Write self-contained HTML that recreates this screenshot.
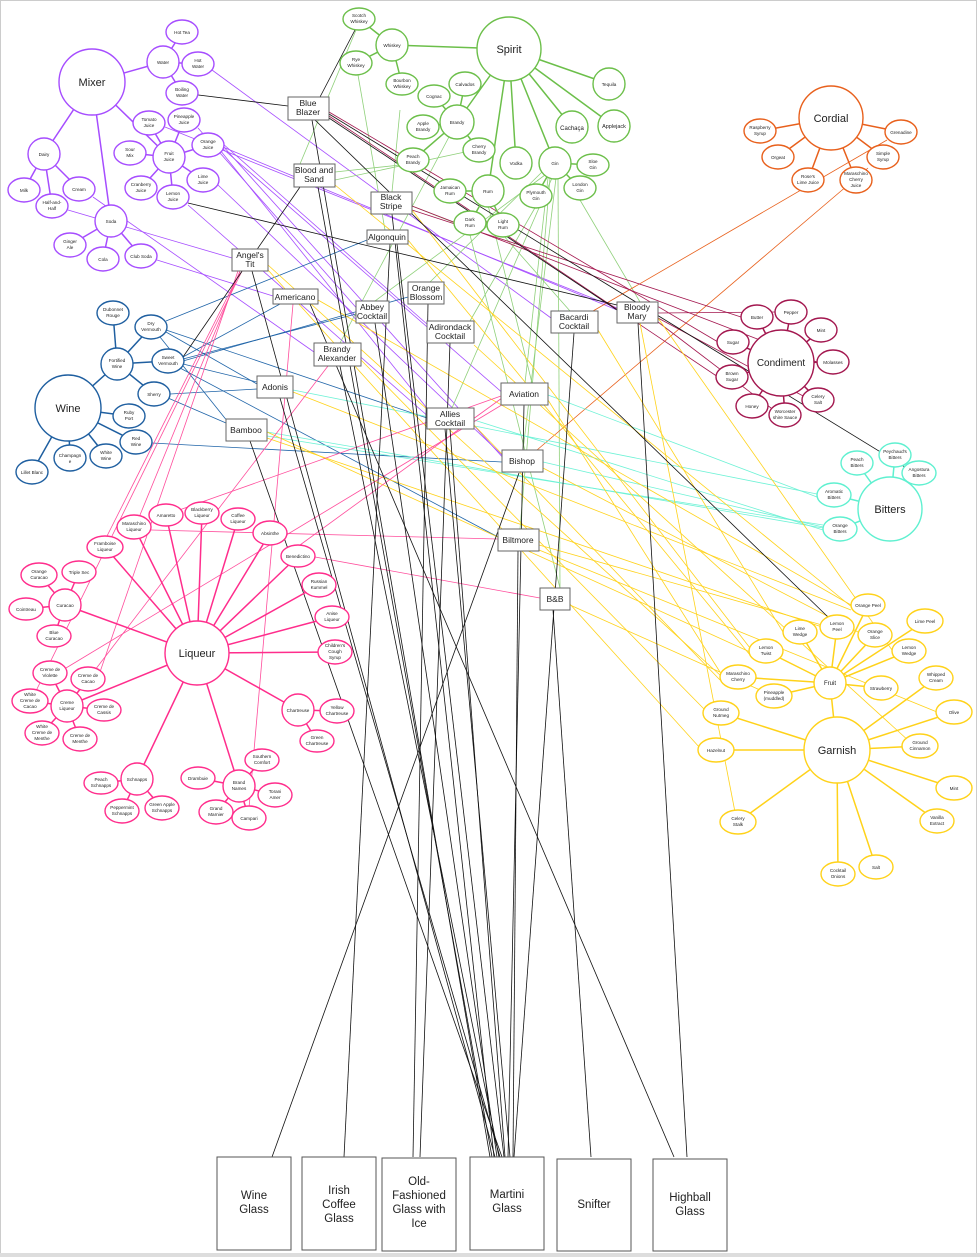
<!DOCTYPE html>
<html><head><meta charset="utf-8"><style>
html,body{margin:0;padding:0;background:#fff}
svg{display:block}
text{font-family:"Liberation Sans",sans-serif;text-anchor:middle;fill:#222}
.s text{font-size:4.6px}
.h{font-size:11px}
.b{font-size:8.5px;fill:#333}
.g{font-size:11.5px;fill:#222}
</style></head><body>
<svg width="980" height="1257" viewBox="0 0 980 1257" xmlns="http://www.w3.org/2000/svg">
<rect x="0.5" y="0.5" width="976" height="1254" fill="#fff" stroke="#ccc"/>
<rect x="0" y="1253" width="980" height="4" fill="#ddd"/>

<!-- cross links -->
<g fill="none" stroke-width="0.8">
<g stroke="#a64dff">
<line x1="212" y1="70" x2="551" y2="318"/>
<line x1="222" y1="145" x2="505" y2="460"/>
<line x1="222" y1="148" x2="505" y2="395"/>
<line x1="220" y1="150" x2="430" y2="412"/>
<line x1="222" y1="143" x2="428" y2="325"/>
<line x1="218" y1="185" x2="502" y2="455"/>
<line x1="188" y1="205" x2="430" y2="418"/>
<line x1="157" y1="260" x2="273" y2="296"/>
<line x1="68" y1="210" x2="232" y2="258"/>
<line x1="93" y1="197" x2="314" y2="352"/>
<line x1="165" y1="127" x2="617" y2="308"/>
<line x1="198" y1="128" x2="360" y2="312"/>
<line x1="218" y1="145" x2="617" y2="310"/>
</g>
<g stroke="#1f64a8">
<line x1="166" y1="321" x2="367" y2="240"/>
<line x1="166" y1="330" x2="427" y2="418"/>
<line x1="166" y1="332" x2="257" y2="384"/>
<line x1="160" y1="337" x2="228" y2="422"/>
<line x1="183" y1="357" x2="280" y2="304"/>
<line x1="183" y1="359" x2="356" y2="314"/>
<line x1="183" y1="361" x2="408" y2="297"/>
<line x1="183" y1="364" x2="257" y2="382"/>
<line x1="180" y1="368" x2="498" y2="537"/>
<line x1="170" y1="394" x2="257" y2="389"/>
<line x1="168" y1="398" x2="226" y2="423"/>
<line x1="152" y1="443" x2="502" y2="462"/>
</g>
<g stroke="#8fd07a">
<line x1="356" y1="30" x2="300" y2="164"/>
<line x1="358" y1="75" x2="385" y2="230"/>
<line x1="400" y1="165" x2="335" y2="172"/>
<line x1="465" y1="152" x2="335" y2="180"/>
<line x1="450" y1="135" x2="340" y2="343"/>
<line x1="460" y1="225" x2="412" y2="206"/>
<line x1="548" y1="178" x2="525" y2="383"/>
<line x1="545" y1="175" x2="375" y2="301"/>
<line x1="542" y1="172" x2="430" y2="282"/>
<line x1="550" y1="178" x2="520" y2="529"/>
<line x1="552" y1="178" x2="452" y2="408"/>
<line x1="556" y1="178" x2="523" y2="450"/>
<line x1="558" y1="178" x2="560" y2="588"/>
<line x1="503" y1="235" x2="570" y2="311"/>
<line x1="580" y1="200" x2="640" y2="302"/>
<line x1="536" y1="206" x2="470" y2="321"/>
<line x1="488" y1="205" x2="532" y2="383"/>
<line x1="470" y1="235" x2="560" y2="588"/>
<line x1="400" y1="110" x2="392" y2="192"/>
</g>
<g stroke="#e8601c">
<line x1="887" y1="140" x2="593" y2="311"/>
<line x1="868" y1="168" x2="537" y2="450"/>
</g>
<g stroke="#a3174f">
<line x1="412" y1="206" x2="817" y2="362"/>
<line x1="412" y1="210" x2="741" y2="317"/>
<line x1="658" y1="313" x2="775" y2="312"/>
<line x1="658" y1="322" x2="771" y2="408"/>
<line x1="658" y1="318" x2="805" y2="397"/>
<line x1="329" y1="112" x2="718" y2="342"/>
<line x1="329" y1="116" x2="718" y2="377"/>
</g>
<g stroke="#6ef2d6">
<line x1="817" y1="494" x2="293" y2="390"/>
<line x1="823" y1="528" x2="267" y2="432"/>
<line x1="823" y1="530" x2="474" y2="420"/>
<line x1="823" y1="527" x2="543" y2="462"/>
<line x1="823" y1="525" x2="267" y2="436"/>
<line x1="817" y1="497" x2="548" y2="395"/>
</g>
<g stroke="#ffd21a">
<line x1="268" y1="265" x2="720" y2="675"/>
<line x1="318" y1="300" x2="851" y2="605"/>
<line x1="335" y1="185" x2="853" y2="608"/>
<line x1="412" y1="210" x2="750" y2="648"/>
<line x1="267" y1="432" x2="750" y2="652"/>
<line x1="293" y1="392" x2="851" y2="610"/>
<line x1="543" y1="468" x2="858" y2="632"/>
<line x1="539" y1="545" x2="822" y2="625"/>
<line x1="640" y1="323" x2="735" y2="812"/>
<line x1="658" y1="318" x2="892" y2="650"/>
<line x1="408" y1="240" x2="750" y2="655"/>
<line x1="474" y1="425" x2="720" y2="680"/>
<line x1="548" y1="400" x2="720" y2="672"/>
<line x1="598" y1="330" x2="783" y2="632"/>
<line x1="361" y1="360" x2="705" y2="710"/>
<line x1="268" y1="270" x2="700" y2="748"/>
<line x1="539" y1="550" x2="937" y2="712"/>
<line x1="474" y1="345" x2="910" y2="742"/>
<line x1="570" y1="605" x2="760" y2="690"/>
<line x1="267" y1="438" x2="822" y2="627"/>
</g>
<g stroke="#ff4d9c">
<line x1="151" y1="530" x2="498" y2="539"/>
<line x1="315" y1="557" x2="540" y2="598"/>
<line x1="151" y1="520" x2="501" y2="396"/>
<line x1="66" y1="668" x2="505" y2="403"/>
<line x1="95" y1="670" x2="328" y2="366"/>
<line x1="100" y1="672" x2="238" y2="271"/>
<line x1="35" y1="693" x2="242" y2="271"/>
<line x1="249" y1="808" x2="293" y2="304"/>
<line x1="140" y1="515" x2="240" y2="271"/>
<line x1="300" y1="545" x2="502" y2="398"/>
<line x1="240" y1="272" x2="105" y2="540"/>
</g>
<g stroke="#111">
<line x1="182" y1="93" x2="288" y2="106"/>
<line x1="188" y1="203" x2="617" y2="305"/>
<line x1="320" y1="97" x2="355" y2="30"/>
<line x1="183" y1="357" x2="300" y2="187"/>
<line x1="329" y1="114" x2="905" y2="467"/>
<line x1="329" y1="118" x2="617" y2="310"/>
<line x1="315" y1="120" x2="828" y2="617"/>
<line x1="519" y1="473" x2="272" y2="1157"/>
<line x1="390" y1="244" x2="344" y2="1157"/>
<line x1="450" y1="343" x2="420" y2="1157"/>
<line x1="428" y1="304" x2="413" y2="1157"/>
<line x1="312" y1="120" x2="490" y2="1157"/>
<line x1="318" y1="187" x2="492" y2="1157"/>
<line x1="392" y1="214" x2="494" y2="1157"/>
<line x1="252" y1="271" x2="495" y2="1157"/>
<line x1="375" y1="323" x2="497" y2="1157"/>
<line x1="340" y1="366" x2="499" y2="1157"/>
<line x1="280" y1="398" x2="500" y2="1157"/>
<line x1="250" y1="441" x2="502" y2="1157"/>
<line x1="524" y1="405" x2="508" y2="1157"/>
<line x1="450" y1="429" x2="505" y2="1157"/>
<line x1="397" y1="244" x2="504" y2="1157"/>
<line x1="518" y1="551" x2="513" y2="1157"/>
<line x1="574" y1="333" x2="514" y2="1157"/>
<line x1="553" y1="610" x2="591" y2="1157"/>
<line x1="638" y1="323" x2="687" y2="1157"/>
<line x1="310" y1="304" x2="674" y2="1157"/>
<line x1="445" y1="429" x2="510" y2="1157"/>
</g>
</g>

<!-- spokes -->
<g stroke-width="1.5" fill="none">
<g stroke="#a64dff">
<path d="M92 82L163 62M92 82L169 157M92 82L44 154M92 82L111 221M163 62L182 32M163 62L198 64M163 62L182 93M169 157L149 123M169 157L184 120M169 157L208 145M169 157L130 153M169 157L141 188M169 157L203 180M169 157L173 197M44 154L24 190M44 154L79 189M44 154L52 206M111 221L70 245M111 221L103 259M111 221L141 256"/>
</g>
<g stroke="#1f5fa0">
<path d="M68 408L117 364M68 408L129 416M68 408L136 442M68 408L106 456M68 408L70 458M68 408L32 472M117 364L113 313M117 364L151 327M117 364L168 361M117 364L154 394"/>
</g>
<g stroke="#6cbf4a">
<path d="M509 49L392 45M509 49L457 122M509 49L488 191M509 49L516 163M509 49L555 163M509 49L572 127M509 49L614 126M509 49L609 84M392 45L359 19M392 45L356 63M392 45L402 84M457 122L465 84M457 122L434 96M457 122L423 127M457 122L479 150M457 122L413 160M488 191L450 191M488 191L470 223M488 191L503 225M555 163L593 165M555 163L580 188M555 163L536 196"/>
</g>
<g stroke="#e8601c">
<path d="M831 118L760 131M831 118L901 132M831 118L778 157M831 118L883 157M831 118L808 180M831 118L856 180"/>
</g>
<g stroke="#a3174f">
<path d="M781 363L757 317M781 363L791 312M781 363L821 330M781 363L733 342M781 363L833 362M781 363L732 377M781 363L818 400M781 363L752 406M781 363L785 415"/>
</g>
<g stroke="#5ff0d0">
<path d="M890 509L857 463M890 509L895 455M890 509L919 473M890 509L834 495M890 509L840 529"/>
</g>
<g stroke="#ffd21a">
<path d="M837 750L830 683M837 750L936 678M837 750L954 712M837 750L920 746M837 750L954 788M837 750L937 821M837 750L876 867M837 750L838 874M837 750L738 822M837 750L716 750M837 750L721 713M830 683L868 605M830 683L925 621M830 683L837 627M830 683L800 632M830 683L875 635M830 683L909 651M830 683L766 651M830 683L738 677M830 683L774 696M830 683L881 688"/>
</g>
<g stroke="#ff2d8c">
<path d="M197 653L134 527M197 653L166 515M197 653L202 513M197 653L238 519M197 653L270 533M197 653L298 556M197 653L319 585M197 653L332 617M197 653L335 652M197 653L298 710M197 653L239 786M197 653L137 779M197 653L67 706M197 653L65 605M197 653L105 547M65 605L39 575M65 605L79 572M65 605L26 609M65 605L54 636M67 706L50 673M67 706L88 679M67 706L30 701M67 706L104 710M67 706L42 733M67 706L80 739M298 710L337 711M298 710L317 741M239 786L262 760M239 786L198 778M239 786L275 795M239 786L216 812M239 786L249 818M137 779L101 783M137 779L122 811M137 779L162 808"/>
</g>
</g>

<!-- nodes -->
<g fill="#fff" stroke-width="1.4">
<g stroke="#a64dff">
<circle cx="92" cy="82" r="33"/><ellipse cx="182" cy="32" rx="16" ry="12"/><circle cx="163" cy="62" r="16"/><ellipse cx="198" cy="64" rx="16" ry="12"/><ellipse cx="182" cy="93" rx="16" ry="12"/><ellipse cx="149" cy="123" rx="16" ry="12"/><ellipse cx="184" cy="120" rx="16" ry="12"/><ellipse cx="208" cy="145" rx="16" ry="12"/><ellipse cx="130" cy="153" rx="16" ry="12"/><circle cx="169" cy="157" r="16"/><ellipse cx="141" cy="188" rx="16" ry="12"/><ellipse cx="203" cy="180" rx="16" ry="12"/><ellipse cx="173" cy="197" rx="16" ry="12"/><circle cx="44" cy="154" r="16"/><ellipse cx="24" cy="190" rx="16" ry="12"/><ellipse cx="79" cy="189" rx="16" ry="12"/><ellipse cx="52" cy="206" rx="16" ry="12"/><circle cx="111" cy="221" r="16"/><ellipse cx="70" cy="245" rx="16" ry="12"/><ellipse cx="103" cy="259" rx="16" ry="12"/><ellipse cx="141" cy="256" rx="16" ry="12"/>
</g>
<g stroke="#1f5fa0">
<circle cx="68" cy="408" r="33"/><ellipse cx="113" cy="313" rx="16" ry="12"/><ellipse cx="151" cy="327" rx="16" ry="12"/><circle cx="117" cy="364" r="16"/><ellipse cx="168" cy="361" rx="16" ry="12"/><ellipse cx="154" cy="394" rx="16" ry="12"/><ellipse cx="129" cy="416" rx="16" ry="12"/><ellipse cx="136" cy="442" rx="16" ry="12"/><ellipse cx="106" cy="456" rx="16" ry="12"/><ellipse cx="70" cy="458" rx="16" ry="13"/><ellipse cx="32" cy="472" rx="16" ry="12"/>
</g>
<g stroke="#6cbf4a">
<circle cx="509" cy="49" r="32"/><ellipse cx="359" cy="19" rx="16" ry="11"/><circle cx="392" cy="45" r="16"/><ellipse cx="356" cy="63" rx="16" ry="12"/><ellipse cx="402" cy="84" rx="16" ry="11"/><circle cx="609" cy="84" r="16"/><ellipse cx="465" cy="84" rx="16" ry="12"/><ellipse cx="434" cy="96" rx="16" ry="11"/><circle cx="457" cy="122" r="17"/><ellipse cx="423" cy="127" rx="16" ry="12"/><ellipse cx="479" cy="150" rx="16" ry="12"/><ellipse cx="413" cy="160" rx="16" ry="12"/><circle cx="516" cy="163" r="16"/><circle cx="555" cy="163" r="16"/><ellipse cx="593" cy="165" rx="16" ry="11"/><ellipse cx="580" cy="188" rx="16" ry="12"/><circle cx="572" cy="127" r="16"/><circle cx="614" cy="126" r="16"/><ellipse cx="450" cy="191" rx="16" ry="12"/><circle cx="488" cy="191" r="16"/><ellipse cx="536" cy="196" rx="16" ry="12"/><ellipse cx="470" cy="223" rx="16" ry="12"/><ellipse cx="503" cy="225" rx="16" ry="12"/>
</g>
<g stroke="#e8601c">
<circle cx="831" cy="118" r="32"/><ellipse cx="760" cy="131" rx="16" ry="12"/><ellipse cx="901" cy="132" rx="16" ry="12"/><ellipse cx="778" cy="157" rx="16" ry="12"/><ellipse cx="883" cy="157" rx="16" ry="12"/><ellipse cx="808" cy="180" rx="16" ry="12"/><ellipse cx="856" cy="180" rx="16" ry="13"/>
</g>
<g stroke="#a3174f">
<circle cx="781" cy="363" r="33"/><ellipse cx="757" cy="317" rx="16" ry="12"/><ellipse cx="791" cy="312" rx="16" ry="12"/><ellipse cx="821" cy="330" rx="16" ry="12"/><ellipse cx="733" cy="342" rx="16" ry="12"/><ellipse cx="833" cy="362" rx="16" ry="12"/><ellipse cx="732" cy="377" rx="16" ry="12"/><ellipse cx="818" cy="400" rx="16" ry="12"/><ellipse cx="752" cy="406" rx="16" ry="12"/><ellipse cx="785" cy="415" rx="16" ry="12"/>
</g>
<g stroke="#5ff0d0">
<circle cx="890" cy="509" r="32"/><ellipse cx="857" cy="463" rx="16" ry="12"/><ellipse cx="895" cy="455" rx="16" ry="12"/><ellipse cx="919" cy="473" rx="17" ry="12"/><ellipse cx="834" cy="495" rx="17" ry="12"/><ellipse cx="840" cy="529" rx="17" ry="12"/>
</g>
<g stroke="#ffd21a">
<circle cx="837" cy="750" r="33"/><circle cx="830" cy="683" r="16"/><ellipse cx="868" cy="605" rx="17" ry="11"/><ellipse cx="925" cy="621" rx="18" ry="12"/><ellipse cx="837" cy="627" rx="17" ry="12"/><ellipse cx="800" cy="632" rx="17" ry="12"/><ellipse cx="875" cy="635" rx="17" ry="12"/><ellipse cx="909" cy="651" rx="17" ry="12"/><ellipse cx="766" cy="651" rx="17" ry="12"/><ellipse cx="936" cy="678" rx="17" ry="12"/><ellipse cx="738" cy="677" rx="18" ry="12"/><ellipse cx="881" cy="688" rx="17" ry="12"/><ellipse cx="774" cy="696" rx="18" ry="12"/><ellipse cx="954" cy="712" rx="18" ry="12"/><ellipse cx="721" cy="713" rx="18" ry="12"/><ellipse cx="920" cy="746" rx="18" ry="12"/><ellipse cx="716" cy="750" rx="18" ry="12"/><ellipse cx="954" cy="788" rx="18" ry="12"/><ellipse cx="937" cy="821" rx="17" ry="12"/><ellipse cx="738" cy="822" rx="18" ry="12"/><ellipse cx="876" cy="867" rx="17" ry="12"/><ellipse cx="838" cy="874" rx="17" ry="12"/>
</g>
<g stroke="#ff2d8c">
<circle cx="197" cy="653" r="32"/><ellipse cx="166" cy="515" rx="17" ry="11"/><ellipse cx="202" cy="513" rx="17" ry="11"/><ellipse cx="238" cy="519" rx="17" ry="11"/><ellipse cx="134" cy="527" rx="17" ry="12"/><ellipse cx="270" cy="533" rx="17" ry="12"/><ellipse cx="105" cy="547" rx="18" ry="11"/><ellipse cx="298" cy="556" rx="17" ry="11"/><ellipse cx="39" cy="575" rx="18" ry="12"/><ellipse cx="79" cy="572" rx="17" ry="11"/><ellipse cx="319" cy="585" rx="17" ry="12"/><circle cx="65" cy="605" r="16"/><ellipse cx="26" cy="609" rx="17" ry="11"/><ellipse cx="332" cy="617" rx="17" ry="11"/><ellipse cx="54" cy="636" rx="17" ry="11"/><ellipse cx="335" cy="652" rx="17" ry="12"/><ellipse cx="50" cy="673" rx="17" ry="12"/><ellipse cx="88" cy="679" rx="17" ry="12"/><ellipse cx="30" cy="701" rx="18" ry="12"/><circle cx="67" cy="706" r="16"/><ellipse cx="104" cy="710" rx="17" ry="11"/><ellipse cx="42" cy="733" rx="17" ry="12"/><ellipse cx="80" cy="739" rx="17" ry="12"/><circle cx="298" cy="710" r="16"/><ellipse cx="337" cy="711" rx="17" ry="12"/><ellipse cx="317" cy="741" rx="17" ry="11"/><ellipse cx="262" cy="760" rx="17" ry="11"/><ellipse cx="198" cy="778" rx="17" ry="11"/><circle cx="239" cy="786" r="16"/><ellipse cx="275" cy="795" rx="17" ry="12"/><circle cx="137" cy="779" r="16"/><ellipse cx="101" cy="783" rx="17" ry="11"/><ellipse cx="216" cy="812" rx="17" ry="12"/><ellipse cx="249" cy="818" rx="17" ry="12"/><ellipse cx="122" cy="811" rx="17" ry="12"/><ellipse cx="162" cy="808" rx="17" ry="12"/>
</g>
</g>

<!-- hub labels -->
<text class="h" x="92" y="86">Mixer</text>
<text class="h" x="68" y="412">Wine</text>
<text class="h" x="509" y="53">Spirit</text>
<text class="h" x="831" y="122">Cordial</text>
<text class="h" x="781" y="366" style="font-size:10px">Condiment</text>
<text class="h" x="890" y="513">Bitters</text>
<text class="h" x="837" y="754">Garnish</text>
<text class="h" x="197" y="657">Liqueur</text>

<!-- small labels -->
<g class="s">
<text x="182" y="34">Hot Tea</text><text x="163" y="64">Water</text>
<text x="198" y="62">Hot<tspan x="198" dy="6">Water</tspan></text>
<text x="182" y="91">Boiling<tspan x="182" dy="6">Water</tspan></text>
<text x="149" y="121">Tomato<tspan x="149" dy="6">Juice</tspan></text>
<text x="184" y="118">Pineapple<tspan x="184" dy="6">Juice</tspan></text>
<text x="208" y="143">Orange<tspan x="208" dy="6">Juice</tspan></text>
<text x="130" y="151">Sour<tspan x="130" dy="6">Mix</tspan></text>
<text x="169" y="155">Fruit<tspan x="169" dy="6">Juice</tspan></text>
<text x="141" y="186">Cranberry<tspan x="141" dy="6">Juice</tspan></text>
<text x="203" y="178">Lime<tspan x="203" dy="6">Juice</tspan></text>
<text x="173" y="195">Lemon<tspan x="173" dy="6">Juice</tspan></text>
<text x="44" y="156">Dairy</text><text x="24" y="192">Milk</text><text x="79" y="191">Cream</text>
<text x="52" y="204">Half-and-<tspan x="52" dy="6">Half</tspan></text>
<text x="111" y="223">Soda</text>
<text x="70" y="243">Ginger<tspan x="70" dy="6">Ale</tspan></text>
<text x="103" y="261">Cola</text><text x="141" y="258">Club Soda</text>

<text x="113" y="311">Dubonnet<tspan x="113" dy="6">Rouge</tspan></text>
<text x="151" y="325">Dry<tspan x="151" dy="6">Vermouth</tspan></text>
<text x="117" y="362">Fortified<tspan x="117" dy="6">Wine</tspan></text>
<text x="168" y="359">Sweet<tspan x="168" dy="6">Vermouth</tspan></text>
<text x="154" y="396">Sherry</text>
<text x="129" y="414">Ruby<tspan x="129" dy="6">Port</tspan></text>
<text x="136" y="440">Red<tspan x="136" dy="6">Wine</tspan></text>
<text x="106" y="454">White<tspan x="106" dy="6">Wine</tspan></text>
<text x="70" y="457">Champagn<tspan x="70" dy="6">e</tspan></text>
<text x="32" y="474">Lillet Blanc</text>

<text x="359" y="17">Scotch<tspan x="359" dy="6">Whiskey</tspan></text>
<text x="392" y="47">Whiskey</text>
<text x="356" y="61">Rye<tspan x="356" dy="6">Whiskey</tspan></text>
<text x="402" y="82">Bourbon<tspan x="402" dy="6">Whiskey</tspan></text>
<text x="609" y="86">Tequila</text><text x="465" y="86">Calvados</text><text x="434" y="98">Cognac</text>
<text x="457" y="124">Brandy</text>
<text x="423" y="125">Apple<tspan x="423" dy="6">Brandy</tspan></text>
<text x="479" y="148">Cherry<tspan x="479" dy="6">Brandy</tspan></text>
<text x="413" y="158">Peach<tspan x="413" dy="6">Brandy</tspan></text>
<text x="516" y="165">Vodka</text><text x="555" y="165">Gin</text>
<text x="593" y="163">Sloe<tspan x="593" dy="6">Gin</tspan></text>
<text x="580" y="186">London<tspan x="580" dy="6">Gin</tspan></text>
<text x="572" y="130" style="font-size:6px">Cachaça</text><text x="614" y="128" style="font-size:5.5px">Applejack</text>
<text x="450" y="189">Jamaican<tspan x="450" dy="6">Rum</tspan></text>
<text x="488" y="193">Rum</text>
<text x="536" y="194">Plymouth<tspan x="536" dy="6">Gin</tspan></text>
<text x="470" y="221">Dark<tspan x="470" dy="6">Rum</tspan></text>
<text x="503" y="223">Light<tspan x="503" dy="6">Rum</tspan></text>

<text x="760" y="129">Raspberry<tspan x="760" dy="6">Syrup</tspan></text>
<text x="901" y="134">Grenadine</text><text x="778" y="159">Orgeat</text>
<text x="883" y="155">Simple<tspan x="883" dy="6">Syrup</tspan></text>
<text x="808" y="178">Rose's<tspan x="808" dy="6">Lime Juice</tspan></text>
<text x="856" y="175">Maraschino<tspan x="856" dy="6">Cherry</tspan><tspan x="856" dy="6">Juice</tspan></text>

<text x="757" y="319">Butter</text><text x="791" y="314">Pepper</text><text x="821" y="332">Mint</text>
<text x="733" y="344">Sugar</text><text x="833" y="364">Molasses</text>
<text x="732" y="375">Brown<tspan x="732" dy="6">Sugar</tspan></text>
<text x="818" y="398">Celery<tspan x="818" dy="6">Salt</tspan></text>
<text x="752" y="408">Honey</text>
<text x="785" y="413">Worcester<tspan x="785" dy="6">shire Sauce</tspan></text>

<text x="857" y="461">Peach<tspan x="857" dy="6">Bitters</tspan></text>
<text x="895" y="453">Peychaud's<tspan x="895" dy="6">Bitters</tspan></text>
<text x="919" y="471">Angostura<tspan x="919" dy="6">Bitters</tspan></text>
<text x="834" y="493">Aromatic<tspan x="834" dy="6">Bitters</tspan></text>
<text x="840" y="527">Orange<tspan x="840" dy="6">Bitters</tspan></text>

<text x="830" y="685" style="font-size:6px">Fruit</text>
<text x="868" y="607">Orange Peel</text><text x="925" y="623">Lime Peel</text>
<text x="837" y="625">Lemon<tspan x="837" dy="6">Peel</tspan></text>
<text x="800" y="630">Lime<tspan x="800" dy="6">Wedge</tspan></text>
<text x="875" y="633">Orange<tspan x="875" dy="6">Slice</tspan></text>
<text x="909" y="649">Lemon<tspan x="909" dy="6">Wedge</tspan></text>
<text x="766" y="649">Lemon<tspan x="766" dy="6">Twist</tspan></text>
<text x="936" y="676">Whipped<tspan x="936" dy="6">Cream</tspan></text>
<text x="738" y="675">Maraschino<tspan x="738" dy="6">Cherry</tspan></text>
<text x="881" y="690">Strawberry</text>
<text x="774" y="694">Pineapple<tspan x="774" dy="6">(muddled)</tspan></text>
<text x="954" y="714">Olive</text>
<text x="721" y="711">Ground<tspan x="721" dy="6">Nutmeg</tspan></text>
<text x="920" y="744">Ground<tspan x="920" dy="6">Cinnamon</tspan></text>
<text x="716" y="752">Hazelnut</text><text x="954" y="790">Mint</text>
<text x="937" y="819">Vanilla<tspan x="937" dy="6">Extract</tspan></text>
<text x="738" y="820">Celery<tspan x="738" dy="6">Stalk</tspan></text>
<text x="876" y="869">Salt</text>
<text x="838" y="872">Cocktail<tspan x="838" dy="6">Onions</tspan></text>

<text x="166" y="517">Amaretto</text>
<text x="202" y="511">Blackberry<tspan x="202" dy="6">Liqueur</tspan></text>
<text x="238" y="517">Coffee<tspan x="238" dy="6">Liqueur</tspan></text>
<text x="134" y="525">Maraschino<tspan x="134" dy="6">Liqueur</tspan></text>
<text x="270" y="535">Absinthe</text>
<text x="105" y="545">Framboise<tspan x="105" dy="6">Liqueur</tspan></text>
<text x="298" y="558">Benedictino</text>
<text x="39" y="573">Orange<tspan x="39" dy="6">Curacao</tspan></text>
<text x="79" y="574">Triple Sec</text>
<text x="319" y="583">Russian<tspan x="319" dy="6">Kummel</tspan></text>
<text x="65" y="607">Curacao</text><text x="26" y="611">Cointreau</text>
<text x="332" y="615">Anise<tspan x="332" dy="6">Liqueur</tspan></text>
<text x="54" y="634">Blue<tspan x="54" dy="6">Curacao</tspan></text>
<text x="335" y="647">Children's<tspan x="335" dy="6">Cough</tspan><tspan x="335" dy="6">Syrup</tspan></text>
<text x="50" y="671">Creme de<tspan x="50" dy="6">Violette</tspan></text>
<text x="88" y="677">Creme de<tspan x="88" dy="6">Cacao</tspan></text>
<text x="30" y="696">White<tspan x="30" dy="6">Creme de</tspan><tspan x="30" dy="6">Cacao</tspan></text>
<text x="67" y="704">Creme<tspan x="67" dy="6">Liqueur</tspan></text>
<text x="104" y="708">Creme de<tspan x="104" dy="6">Cassis</tspan></text>
<text x="42" y="728">White<tspan x="42" dy="6">Creme de</tspan><tspan x="42" dy="6">Menthe</tspan></text>
<text x="80" y="737">Creme de<tspan x="80" dy="6">Menthe</tspan></text>
<text x="298" y="712">Chartreuse</text>
<text x="337" y="709">Yellow<tspan x="337" dy="6">Chartreuse</tspan></text>
<text x="317" y="739">Green<tspan x="317" dy="6">Chartreuse</tspan></text>
<text x="262" y="758">Southern<tspan x="262" dy="6">Comfort</tspan></text>
<text x="198" y="780">Drambuie</text>
<text x="239" y="784">Brand<tspan x="239" dy="6">Names</tspan></text>
<text x="275" y="793">Torani<tspan x="275" dy="6">Amer</tspan></text>
<text x="137" y="781">Schnapps</text>
<text x="101" y="781">Peach<tspan x="101" dy="6">Schnapps</tspan></text>
<text x="216" y="810">Grand<tspan x="216" dy="6">Marnier</tspan></text>
<text x="249" y="820">Campari</text>
<text x="122" y="809">Peppermint<tspan x="122" dy="6">Schnapps</tspan></text>
<text x="162" y="806">Green Apple<tspan x="162" dy="6">Schnapps</tspan></text>
</g>

<!-- cocktail boxes -->
<g fill="#fff" stroke="#666" stroke-width="1">
<rect x="288" y="97" width="41" height="23"/><rect x="294" y="164" width="41" height="23"/>
<rect x="371" y="192" width="41" height="22"/><rect x="367" y="230" width="41" height="14"/>
<rect x="232" y="249" width="36" height="22"/><rect x="273" y="289" width="45" height="15"/>
<rect x="408" y="282" width="36" height="22"/><rect x="356" y="301" width="33" height="22"/>
<rect x="427" y="321" width="47" height="22"/><rect x="314" y="343" width="47" height="23"/>
<rect x="551" y="311" width="47" height="22"/><rect x="617" y="302" width="41" height="21"/>
<rect x="257" y="376" width="36" height="22"/><rect x="501" y="383" width="47" height="22"/>
<rect x="427" y="408" width="47" height="21"/><rect x="226" y="419" width="41" height="22"/>
<rect x="502" y="450" width="41" height="22"/><rect x="498" y="529" width="41" height="22"/>
<rect x="540" y="588" width="30" height="22"/>
</g>
<g class="b">
<text x="308" y="106">Blue<tspan x="308" dy="9">Blazer</tspan></text>
<text x="314" y="173">Blood and<tspan x="314" dy="9">Sand</tspan></text>
<text x="391" y="200">Black<tspan x="391" dy="9">Stripe</tspan></text>
<text x="387" y="240">Algonquin</text>
<text x="250" y="258">Angel's<tspan x="250" dy="9">Tit</tspan></text>
<text x="295" y="300">Americano</text>
<text x="426" y="291">Orange<tspan x="426" dy="9">Blossom</tspan></text>
<text x="372" y="310">Abbey<tspan x="372" dy="9">Cocktail</tspan></text>
<text x="450" y="330">Adirondack<tspan x="450" dy="9">Cocktail</tspan></text>
<text x="337" y="352">Brandy<tspan x="337" dy="9">Alexander</tspan></text>
<text x="574" y="320">Bacardi<tspan x="574" dy="9">Cocktail</tspan></text>
<text x="637" y="310">Bloody<tspan x="637" dy="9">Mary</tspan></text>
<text x="275" y="390">Adonis</text>
<text x="524" y="397">Aviation</text>
<text x="450" y="417">Allies<tspan x="450" dy="9">Cocktail</tspan></text>
<text x="246" y="433">Bamboo</text>
<text x="522" y="464">Bishop</text>
<text x="518" y="543">Biltmore</text>
<text x="555" y="602">B&amp;B</text>
</g>

<!-- glass boxes -->
<g fill="#fff" stroke="#555" stroke-width="1">
<rect x="217" y="1157" width="74" height="93"/><rect x="302" y="1157" width="74" height="93"/>
<rect x="382" y="1158" width="74" height="93"/><rect x="470" y="1157" width="74" height="93"/>
<rect x="557" y="1159" width="74" height="92"/><rect x="653" y="1159" width="74" height="92"/>
</g>
<g class="g">
<text x="254" y="1199">Wine<tspan x="254" dy="14">Glass</tspan></text>
<text x="339" y="1194">Irish<tspan x="339" dy="14">Coffee</tspan><tspan x="339" dy="14">Glass</tspan></text>
<text x="419" y="1185">Old-<tspan x="419" dy="14">Fashioned</tspan><tspan x="419" dy="14">Glass with</tspan><tspan x="419" dy="14">Ice</tspan></text>
<text x="507" y="1198">Martini<tspan x="507" dy="14">Glass</tspan></text>
<text x="594" y="1208">Snifter</text>
<text x="690" y="1201">Highball<tspan x="690" dy="14">Glass</tspan></text>
</g>
</svg>
</body></html>
